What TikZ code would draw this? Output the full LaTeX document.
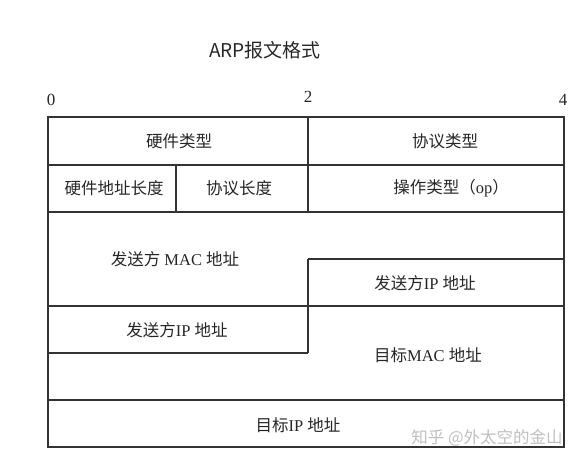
\documentclass[tikz,border=0pt]{standalone}
\usepackage{fontspec}
\setmainfont{Liberation Serif}
\newfontfamily\cjk{Noto Sans CJK SC}
\begin{document}
\begin{tikzpicture}[x=1pt,y=-1pt,
  grid/.style={line width=1.1pt, draw=black!80},
  cell/.style={inner sep=0pt, font=\fontsize{16.5}{20}\selectfont, text=black!85},
  tick/.style={inner sep=0pt, font=\fontsize{17}{20}\selectfont, text=black!85},
  ttl/.style={inner sep=0pt, font=\cjk\fontsize{19}{22}\selectfont, text=black!85},
  wm/.style={inner sep=0pt, font=\cjk\fontsize{16.5}{20}\selectfont, text=black!25}]
\useasboundingbox (0,0) rectangle (585,463);
% grid
\draw[grid] (48,117) rectangle (564,447);
\draw[grid] (48,165) -- (564,165);
\draw[grid] (48,212) -- (564,212);
\draw[grid] (308,259) -- (564,259);
\draw[grid] (48,306) -- (564,306);
\draw[grid] (48,353) -- (308,353);
\draw[grid] (48,400) -- (564,400);
\draw[grid] (308,117) -- (308,212);
\draw[grid] (176,165) -- (176,212);
\draw[grid] (308,259) -- (308,353);
% title and ticks
\node[ttl] (title) at (265,50) {ARP报文格式};
\node[tick] (t0) at (51,100) {0};
\node[tick] (t2) at (308,97) {2};
\node[tick] (t4) at (563,100) {4};
% cells
\node[cell] (hwtype) at (179,141) {\cjk 硬件类型};
\node[cell] (prtype) at (445,141) {\cjk 协议类型};
\node[cell] (hwlen) at (114,188) {\cjk 硬件地址长度};
\node[cell] (prlen) at (239,188) {\cjk 协议长度};
\node[cell] (op) at (451,188) {{\cjk 操作类型（}op{\cjk ）}};
\node[cell] (smac) at (175,259) {{\cjk 发送方} MAC {\cjk 地址}};
\node[cell] (sipa) at (425,283) {{\cjk 发送方}IP {\cjk 地址}};
\node[cell] (sipb) at (177,330) {{\cjk 发送方}IP {\cjk 地址}};
\node[cell] (tmac) at (428,355) {{\cjk 目标}MAC {\cjk 地址}};
\node[cell] (tip) at (298,425) {{\cjk 目标}IP {\cjk 地址}};
% watermark
\node[wm] (wmark) at (487,438) {知乎 @外太空的金山};
\end{tikzpicture}
\end{document}
